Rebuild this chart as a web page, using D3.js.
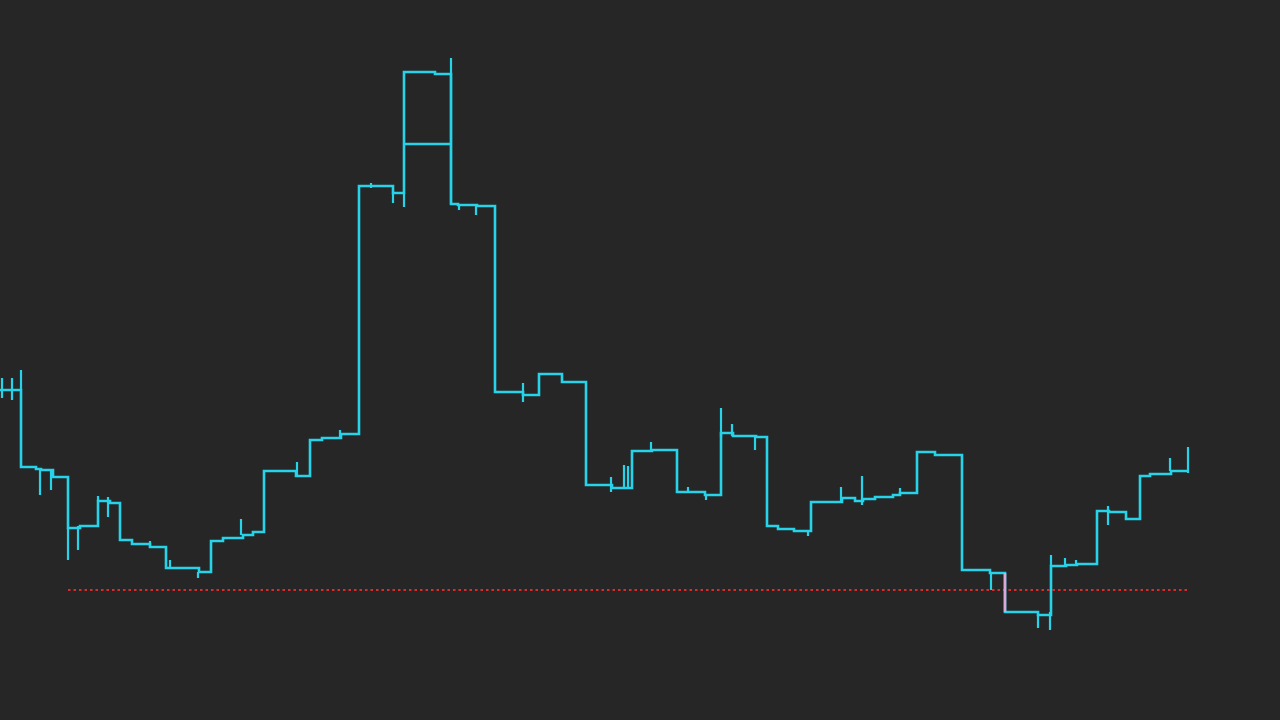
<!DOCTYPE html>
<html>
<head>
<meta charset="utf-8">
<script src="https://cdn.jsdelivr.net/npm/d3@7"></script>
<style>
  html, body { margin: 0; padding: 0; background: #262626; }
  svg { display: block; }
</style>
</head>
<body>
<svg id="chart" width="1280" height="720"></svg>
<script>
// Step series: start time of each step and level value
const stepTimes = [0, 10.5, 18, 20.5, 26.5, 34, 40, 49, 55, 60, 66, 75, 83, 99.5, 105.5, 111.5, 121.5, 126.5,
  132, 148, 155, 161, 170.5, 179.5, 196.5, 202, 217.5, 225.5, 229, 238.5, 247.5, 261.5, 269.5, 281,
  293, 306, 316, 326, 338.5, 352.5, 360.5, 366.5, 378, 383.5, 389, 397, 405.5, 421, 427.5, 431.5,
  437.5, 446.5, 450, 458.5, 467.5, 481, 495, 502.5, 519, 525.5, 533, 538.5, 548.5, 554.5, 563, 570,
  575, 585.5, 594];
const stepValues = [200, 161.5, 160.5, 160, 156.5, 131, 132, 144.5, 143.5, 125, 123, 121.5, 111, 109, 124.5, 126, 127.5, 129,
  159.5, 157, 175, 176, 178, 302, 298.5, 359, 358, 293, 292.5, 292, 199, 197.5, 208, 204,
  152.5, 151, 169.5, 170, 149, 147.5, 178.5, 177, 176.5, 132, 130.5, 129.5, 144, 146, 144.5, 145.5,
  146.5, 147.5, 148.5, 169, 167.5, 110, 108.5, 89, 87.5, 112, 112.5, 113, 139.5, 139, 135.5, 157,
  158, 159.5, 159.5];

// Wicks: time, low, high
const wickTimes = [1, 6, 10.5, 20, 25.5, 34, 39, 49, 54, 75, 85, 99, 120.5, 148.5, 170, 185.5, 196.5, 202, 225.5,
  229.5, 238, 261.5, 305.5, 312, 314, 325.5, 344, 353, 360.5, 366, 377.5, 404, 420.5, 431, 450, 495.5,
  519, 525, 525.5, 532.5, 538, 554, 585, 594];
const wickLows = [196, 195, 200, 147.5, 150, 115, 120, 144.5, 136.5, 121.5, 111, 106, 127.5, 157, 176, 301, 293.5, 291.5, 293,
  290, 287.5, 194, 149, 151, 151, 170, 149, 145, 176.5, 177, 170, 127, 144, 142.5, 148.5, 100,
  81, 80, 112, 112, 112.5, 132.5, 159.5, 158.5];
const wickHighs = [206, 206, 210, 160, 160, 131, 132, 147, 146.5, 124.5, 115, 109, 135.5, 164, 180, 303.5, 298.5, 298.5, 366,
  292.5, 292, 203.5, 156.5, 162.5, 162, 174, 151.5, 147.5, 191, 183, 176.5, 129.5, 151.5, 157, 151, 108.5,
  87.5, 89, 117.5, 116, 115, 142, 166, 171.5];

// Extra level drawn across the peak block
const extraLevel = { from: 202, to: 225.5, value: 323 };
// Highlighted drop segment
const highlight = { time: 502.5, from: 108.5, to: 89 };
// Reference threshold line
const refLine = { from: 34, to: 594, value: 100 };

const W = 1280, H = 720;
const x = d3.scaleLinear().domain([0, 640]).range([0, 1280]);
const y = d3.scaleLinear().domain([35, 395]).range([720, 0]);

const svg = d3.select("#chart");
svg.append("rect").attr("width", W).attr("height", H).attr("fill", "#262626");

const cyan = "#26d3e8";

// reference dotted line
svg.append("line")
  .attr("x1", x(refLine.from)).attr("x2", x(refLine.to))
  .attr("y1", y(refLine.value)).attr("y2", y(refLine.value))
  .attr("stroke", "#dc2b2b").attr("stroke-width", 2)
  .attr("stroke-dasharray", "2.5,3");

// wicks
svg.append("g").selectAll("line").data(wickTimes).join("line")
  .attr("x1", d => x(d)).attr("x2", d => x(d))
  .attr("y1", (d, i) => y(wickLows[i])).attr("y2", (d, i) => y(wickHighs[i]))
  .attr("stroke", cyan).attr("stroke-width", 2.2);

// extra level
svg.append("line")
  .attr("x1", x(extraLevel.from)).attr("x2", x(extraLevel.to))
  .attr("y1", y(extraLevel.value)).attr("y2", y(extraLevel.value))
  .attr("stroke", cyan).attr("stroke-width", 2.6);

// step line
const pts = stepTimes.map((t, i) => [t, stepValues[i]]);
const line = d3.line().x(d => x(d[0])).y(d => y(d[1])).curve(d3.curveStepAfter);
svg.append("path").datum(pts)
  .attr("d", line)
  .attr("fill", "none").attr("stroke", cyan).attr("stroke-width", 2.6)
  .attr("stroke-linejoin", "miter");

// highlighted segment
svg.append("line")
  .attr("x1", x(highlight.time)).attr("x2", x(highlight.time))
  .attr("y1", y(highlight.from)).attr("y2", y(highlight.to))
  .attr("stroke", "#dca6d6").attr("stroke-width", 2.6);
</script>
</body>
</html>
